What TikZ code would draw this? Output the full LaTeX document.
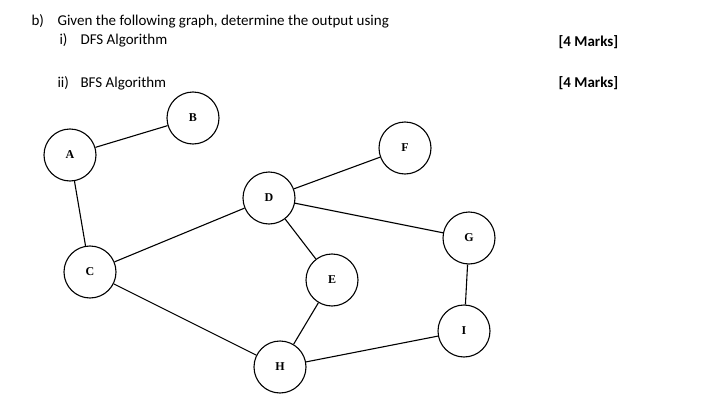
\documentclass[tikz,border=0pt]{standalone}
\usepackage{fontspec}
\setmainfont{Carlito}
\newfontfamily\vertexfont{Liberation Serif}

\begin{document}
\begin{tikzpicture}[x=1pt,y=-1pt,
   vertex/.style={draw,circle,line width=1.1pt,minimum size=52pt,inner sep=0pt,
                  font=\vertexfont\fontsize{12}{14}\selectfont\bfseries},
   question/.style={anchor=base west,inner sep=0pt,font=\fontsize{15}{18}\selectfont},
   marks/.style={question,font=\fontsize{15}{18}\selectfont\bfseries},
   every path/.style={line width=1.1pt}]

\useasboundingbox (0,0) rectangle (713,415);

% question text
\node[question] (b)    at (31,26) {b)};
\node[question] (qtxt) at (57,26) {Given the following graph, determine the output using};
\node[question] (i)    at (59,45) {i)};
\node[question] (dfs)  at (80,45) {DFS Algorithm};
\node[question] (ii)   at (57,87) {ii)};
\node[question] (bfs)  at (80,87) {BFS Algorithm};
\node[marks] (mdfs) at (558,46) {[4 Marks]};
\node[marks] (mbfs) at (558,87) {[4 Marks]};

% graph
\node[vertex] (A) at (70,155)  {A};
\node[vertex] (B) at (193,118) {B};
\node[vertex] (C) at (90,272)  {C};
\node[vertex] (D) at (269,198) {D};
\node[vertex] (E) at (332,280) {E};
\node[vertex] (F) at (405,148) {F};
\node[vertex] (G) at (469,238) {G};
\node[vertex] (H) at (280,367) {H};
\node[vertex] (I) at (464,331) {I};

\draw (A) -- (B);
\draw (A) -- (C);
\draw (C) -- (D);
\draw (C) -- (H);
\draw (D) -- (F);
\draw (D) -- (G);
\draw (D) -- (E);
\draw (E) -- (H);
\draw (H) -- (I);
\draw (G) -- (I);

\end{tikzpicture}
\end{document}
